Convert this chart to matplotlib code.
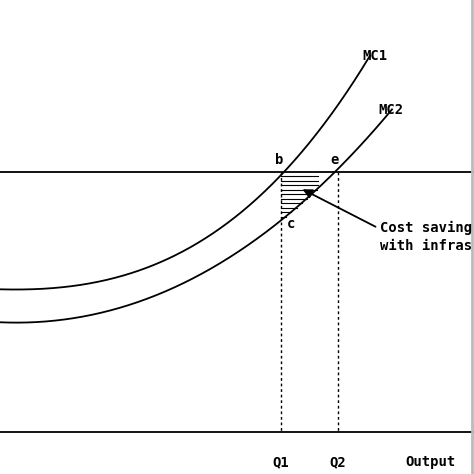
import matplotlib
matplotlib.use("Agg")
import matplotlib.pyplot as plt
import numpy as np

mc1_x = [0, 50, 100, 150, 200, 250, 281, 320, 370]
mc1_y = [290, 288, 280, 265, 244, 210, 172, 125, 58]
mc2_x = [0, 50, 100, 150, 200, 250, 281, 310, 338, 365, 392]
mc2_y = [323, 320, 312, 298, 278, 245, 214, 195, 172, 142, 108]
price = 172
q1, q2 = 281, 338
base = 432

fig = plt.figure(figsize=(4.74, 4.74), dpi=100)
ax = fig.add_axes([0, 0, 1, 1])
ax.set_xlim(0, 474); ax.set_ylim(474, 0); ax.axis("off")
font = dict(family="DejaVu Sans Mono", fontsize=10, fontweight="bold")

p1 = np.polyfit(mc1_x, mc1_y, 3)
p2 = np.polyfit(mc2_x, mc2_y, 3)
x1 = np.linspace(0, 370, 300)
x2 = np.linspace(0, 392, 300)
ax.plot(x1, np.polyval(p1, x1), color="black", lw=1.3)
ax.plot(x2, np.polyval(p2, x2), color="black", lw=1.3)
ax.axhline(price, color="black", lw=1.3)
ax.axhline(base, color="black", lw=1.3)
ax.plot([q1, q1], [price, base], color="black", lw=1, ls=(0, (2, 2)))
ax.plot([q2, q2], [price, base], color="black", lw=1, ls=(0, (2, 2)))
ax.plot([472, 472], [0, 474], color="#bbbbbb", lw=2)

xd = np.linspace(q1, q2, 500)
yd = np.polyval(p2, xd)
for y in np.arange(176, np.polyval(p2, q1), 4.5):
    xr = xd[np.argmin(np.abs(yd - y))]
    ax.plot([q1, min(xr, 318)], [y, y], color="black", lw=0.8)

ax.annotate("", xy=(300, 188), xytext=(378, 228),
            arrowprops=dict(arrowstyle="-|>", color="black", lw=1.3, mutation_scale=14))
ax.text(380, 232, "Cost saving", **font)
ax.text(380, 250, "with infras", **font)
ax.text(362, 60, "MC1", **font)
ax.text(378, 114, "MC2", **font)
ax.text(275, 164, "b", **font)
ax.text(330, 164, "e", **font)
ax.text(287, 228, "c", **font)
ax.text(q1, 466, "Q1", ha="center", **font)
ax.text(q2, 466, "Q2", ha="center", **font)
ax.text(405, 466, "Output", **font)
fig.savefig("out.png", dpi=100)
